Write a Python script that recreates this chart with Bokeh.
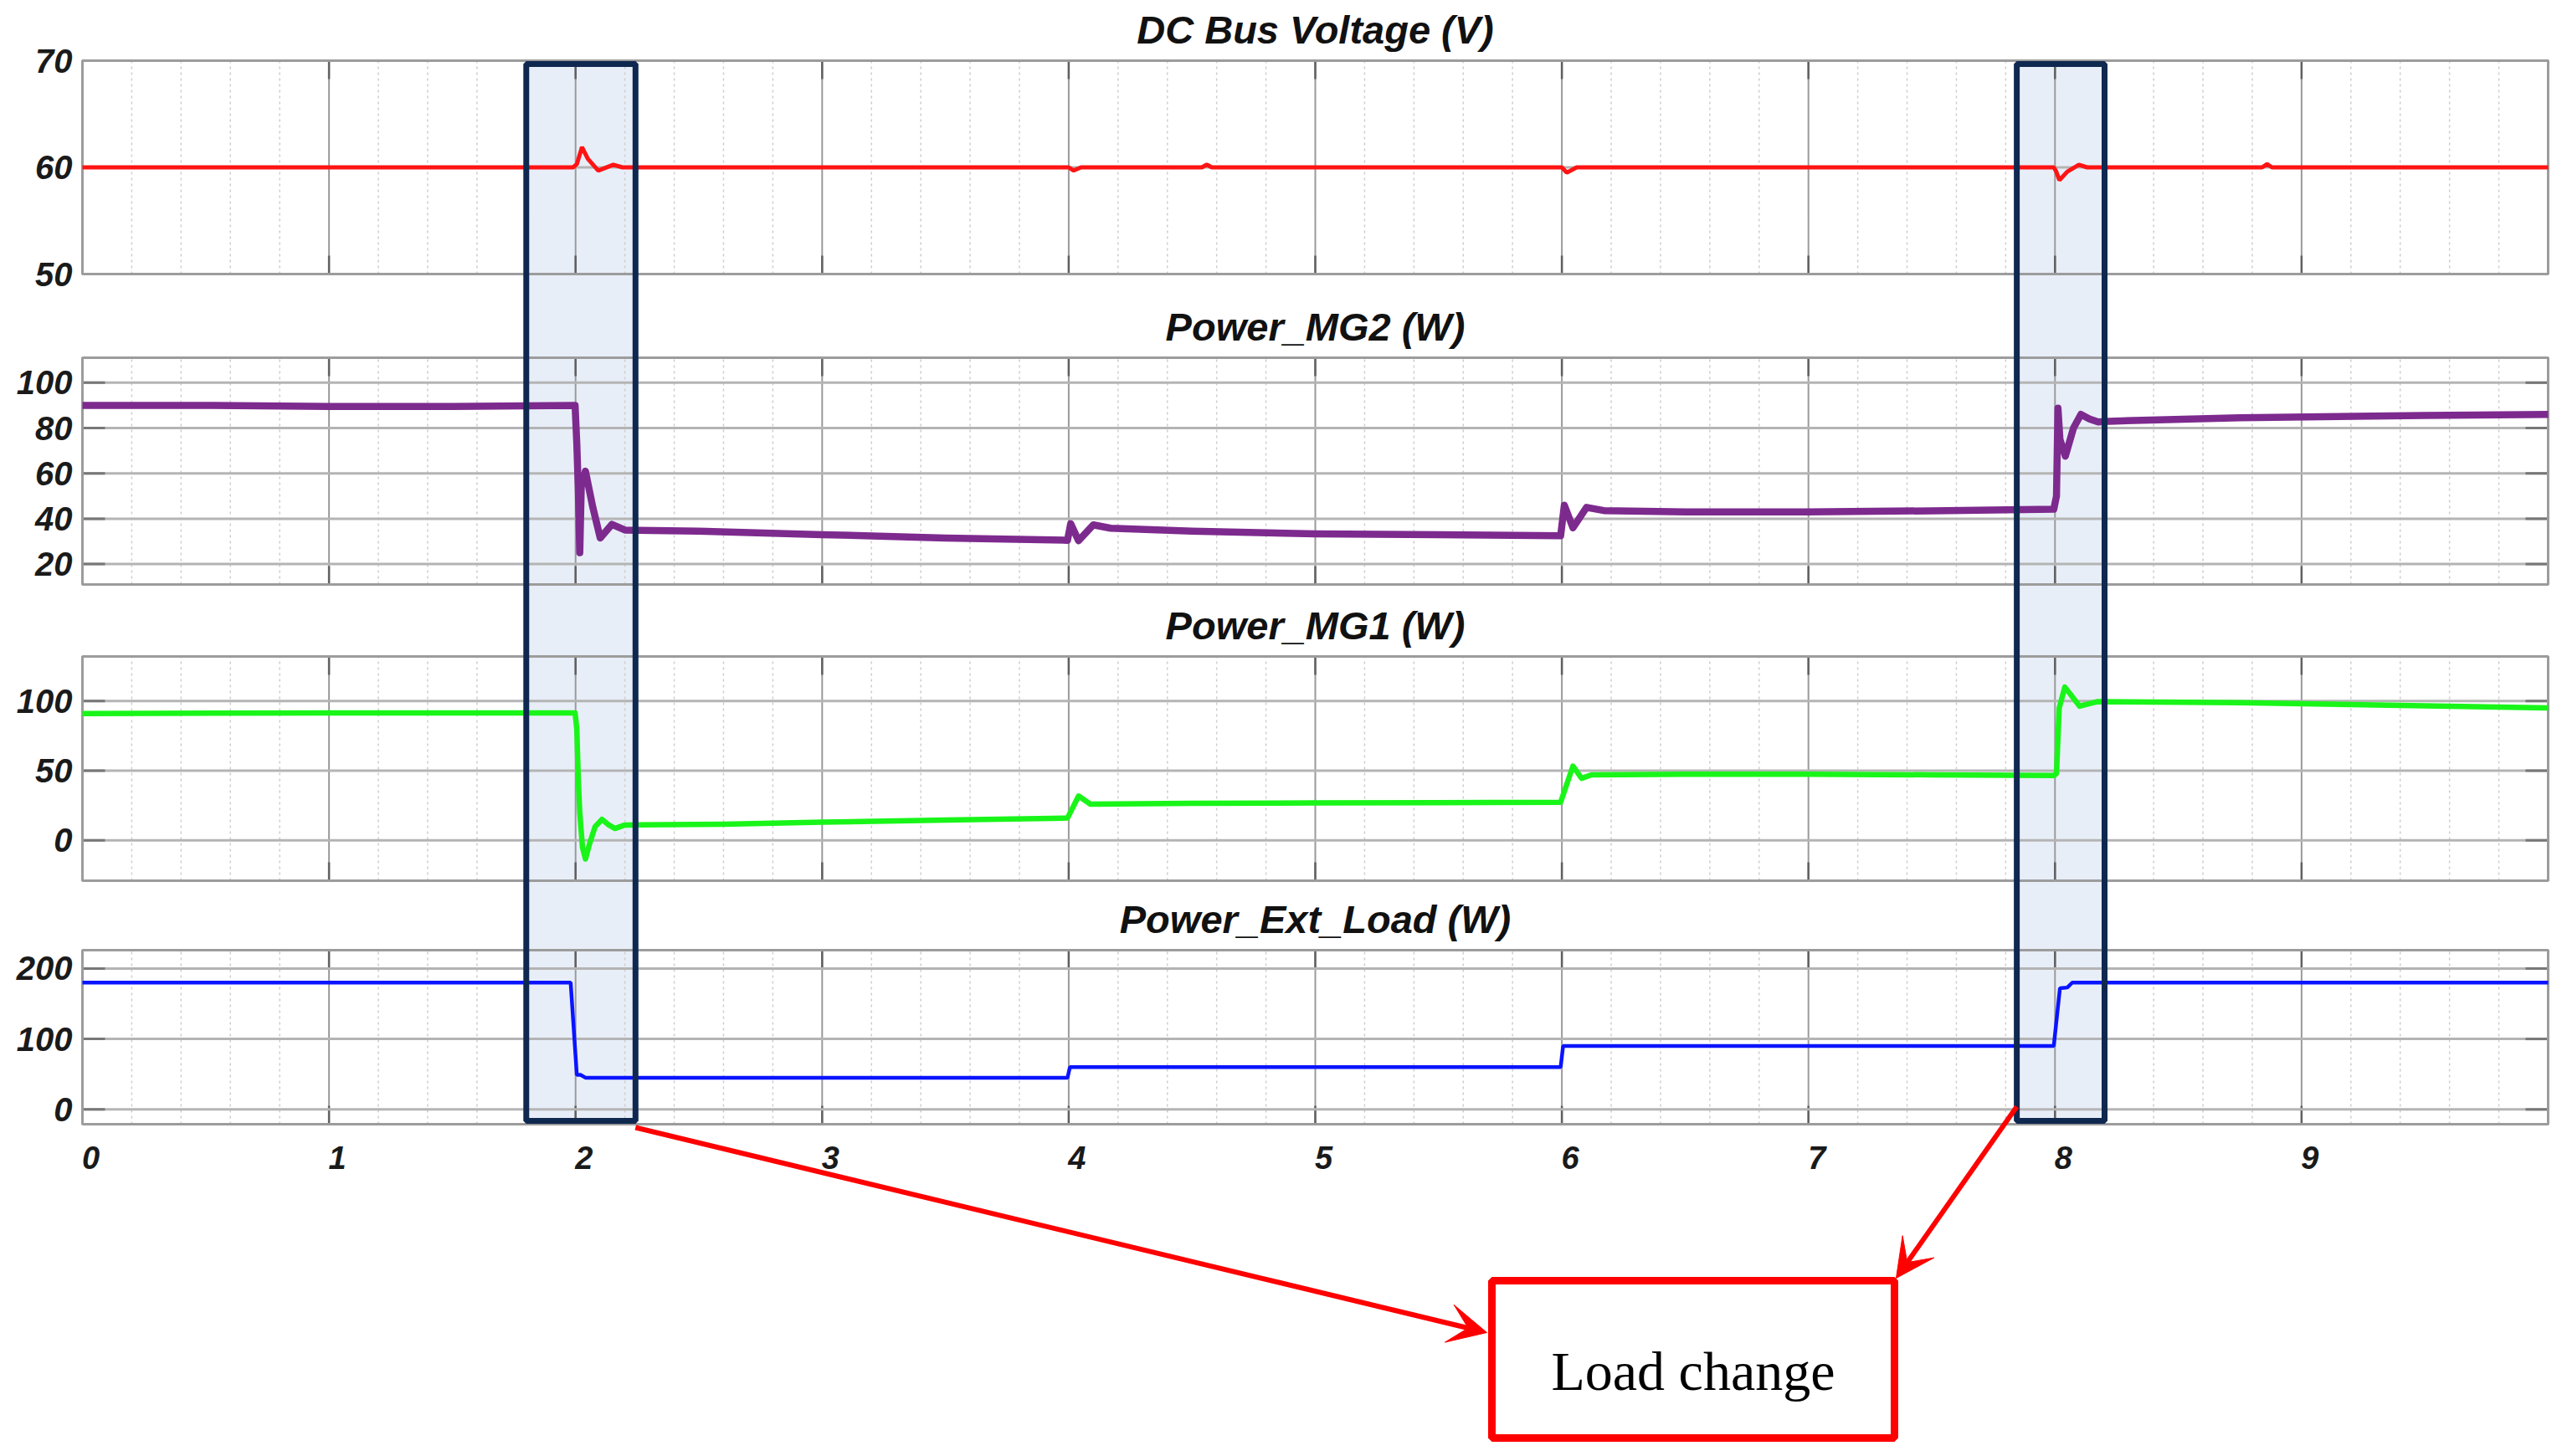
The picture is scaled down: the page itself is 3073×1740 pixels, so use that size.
from bokeh.plotting import figure
from bokeh.models import Range1d, LinearAxis, FixedTicker, Arrow, VeeHead
from bokeh.core.properties import value
from bokeh.embed import file_html
from bokeh.resources import INLINE

# ---------------- data ----------------
time_ticks = [0, 1, 2, 3, 4, 5, 6, 7, 8, 9]

dc_bus_t = [0, 1.99, 2.005, 2.026, 2.05, 2.092, 2.153, 2.19, 3.99, 4.0, 4.02, 4.05,
            4.54, 4.56, 4.58, 5.99, 6.0, 6.02, 6.06, 7.995, 8.005, 8.018, 8.05, 8.097,
            8.13, 8.84, 8.86, 8.88, 10]
dc_bus_v = [60, 60, 60.3, 61.9, 60.8, 59.7, 60.25, 60, 60, 60, 59.7, 60,
            60, 60.25, 60, 60, 60, 59.5, 60, 60, 59.6, 58.8, 59.6, 60.25,
            60, 60, 60.3, 60, 60]

mg2_t = [0, 0.5, 1.0, 1.5, 1.998, 2.005, 2.011, 2.017, 2.023, 2.04, 2.07, 2.10,
         2.147, 2.2, 2.5, 3.0, 3.5, 3.995, 4.008, 4.04, 4.1, 4.17, 4.5, 5.0,
         5.5, 5.995, 6.01, 6.045, 6.1, 6.17, 6.5, 7.0, 7.5, 7.995, 8.006, 8.012,
         8.02, 8.042, 8.075, 8.105, 8.14, 8.175, 8.22, 8.75, 9.5, 10]
mg2_w = [90, 90, 89.5, 89.5, 90, 73, 53, 25, 54, 61, 45, 31.5,
         37.5, 35, 34.5, 33, 31.5, 30.5, 37.8, 30.3, 37.3, 35.8, 34.5, 33.3,
         33, 32.5, 46, 36, 45, 43.6, 43, 43, 43.5, 44.2, 50, 88.8,
         75, 67.6, 80, 86, 84, 82.7, 83, 84.5, 85.5, 86]

mg1_t = [0, 1.0, 1.998, 2.005, 2.011, 2.017, 2.028, 2.04, 2.057, 2.079, 2.107,
         2.135, 2.16, 2.2, 2.6, 3.0, 3.5, 3.995, 4.04, 4.088, 4.5, 5.0, 5.5,
         5.995, 6.045, 6.08, 6.12, 6.5, 7.0, 7.5, 7.995, 8.006, 8.017, 8.04,
         8.1, 8.17, 8.75, 9.5, 10]
mg1_w = [91, 91.5, 91.5, 80, 44, 19.5, -5, -13.4, -2.4, 9.8, 15,
         11, 8.5, 11, 11.5, 13, 14.5, 16, 31.8, 26, 26.5, 26.9, 27,
         27.3, 53.3, 44.5, 47, 47.5, 47.5, 47, 46.5, 48, 95, 110,
         96.3, 99.5, 98.8, 96.5, 95]

load_t = [0, 1.98, 2.005, 2.02, 2.04, 3.995, 4.005, 5.995, 6.005, 7.995, 8.02,
          8.05, 8.07, 10]
load_w = [180, 180, 49, 49, 45, 45, 60, 60, 90, 90, 172, 173, 180, 180]

load_change_windows_start = [1.80, 7.845]
load_change_windows_end = [2.243, 8.201]

panel_titles = ["DC Bus Voltage (V)", "Power_MG2 (W)", "Power_MG1 (W)", "Power_Ext_Load (W)"]
dc_ticks = [50, 60, 70]
mg2_ticks = [20, 40, 60, 80, 100]
mg1_ticks = [0, 50, 100]
load_ticks = [0, 100, 200]
callout_text = "Load change"

# ---------------- layout (reference pixel coordinates) ----------------
W, H = 3057, 1724
REF_TOP, REF_BOTTOM = 0, H
REF_LEFT, REF_RIGHT = 0, W
X0_PX, X10_PX = 98, 3044
PXU = (X10_PX - X0_PX) / 10.0

panels = {
    "dc":   dict(top=72,   bottom=327,  lo=50,  hi=70,  ticks=dc_ticks),
    "mg2":  dict(top=427,  bottom=698,  lo=11,  hi=111, ticks=mg2_ticks),
    "mg1":  dict(top=784,  bottom=1052, lo=-29, hi=132, ticks=mg1_ticks),
    "load": dict(top=1135, bottom=1343, lo=-21, hi=226, ticks=load_ticks),
}

x_start = -(X0_PX - REF_LEFT) / PXU
x_end = 10 + (REF_RIGHT - X10_PX) / PXU
x_range = Range1d(start=x_start, end=x_end)
y_range = Range1d(start=REF_BOTTOM, end=REF_TOP)   # layout coordinates, downward

p = figure(width=W, height=H, x_range=x_range, y_range=y_range,
           x_axis_type=None, y_axis_type=None, toolbar_location=None,
           output_backend="svg", min_border=0, outline_line_color=None)
p.background_fill_color = "white"
p.border_fill_color = "white"

# x labels in the reference sit ~10 px right of their grid line
LABEL_SHIFT = 10 / PXU
p.extra_x_ranges["xlab"] = Range1d(start=x_start - LABEL_SHIFT, end=x_end - LABEL_SHIFT)

for name, d in panels.items():
    s = (d["hi"] - d["lo"]) / (d["bottom"] - d["top"])
    d["s"] = s
    p.extra_y_ranges[name] = Range1d(start=d["lo"] - (REF_BOTTOM - d["bottom"]) * s,
                                     end=d["hi"] + (d["top"] - REF_TOP) * s)

# highlight fills (under everything)
p.quad(left=load_change_windows_start, right=load_change_windows_end,
       top=[76, 76], bottom=[1339, 1339], fill_color="#e8eef8", line_color=None)

FONT = "Liberation Sans"
minor_x = [i / 5 for i in range(51) if i % 5]
major_x = list(range(0, 11))
TICK = 27 / PXU

for name, d in panels.items():
    lo, hi, s = d["lo"], d["hi"], d["s"]
    p.segment(x0=minor_x, x1=minor_x, y0=[lo] * len(minor_x), y1=[hi] * len(minor_x),
              y_range_name=name, line_color="#cdcdcd", line_width=1.5, line_dash="3 4")
    p.segment(x0=major_x, x1=major_x, y0=[lo] * len(major_x), y1=[hi] * len(major_x),
              y_range_name=name, line_color="#9a9a9a", line_width=2)
    tl = 22 * s
    p.segment(x0=major_x, x1=major_x, y0=[lo] * len(major_x), y1=[lo + tl] * len(major_x),
              y_range_name=name, line_color="#606060", line_width=2.5)
    p.segment(x0=major_x, x1=major_x, y0=[hi] * len(major_x), y1=[hi - tl] * len(major_x),
              y_range_name=name, line_color="#606060", line_width=2.5)
    tk = d["ticks"]
    p.segment(x0=[0] * len(tk), x1=[10] * len(tk), y0=tk, y1=tk,
              y_range_name=name, line_color="#b4b4b4", line_width=3)
    # tick marks inside the frame, left and right
    p.segment(x0=[0] * len(tk), x1=[TICK] * len(tk), y0=tk, y1=tk,
              y_range_name=name, line_color="#777777", line_width=3)
    p.segment(x0=[10 - TICK] * len(tk), x1=[10] * len(tk), y0=tk, y1=tk,
              y_range_name=name, line_color="#777777", line_width=3)
    p.quad(left=[0], right=[10], bottom=[lo], top=[hi], y_range_name=name,
           fill_color=None, line_color="#9c9c9c", line_width=3)
    ax = LinearAxis(y_range_name=name, ticker=FixedTicker(ticks=tk), fixed_location=0,
                    axis_line_color=None, major_tick_in=0, major_tick_out=0,
                    major_tick_line_color=None, minor_tick_line_color=None,
                    major_label_standoff=12,
                    major_label_text_font=FONT, major_label_text_font_style="bold italic",
                    major_label_text_font_size="40px", major_label_text_color="#1a1a1a")
    p.add_layout(ax, "left")

# data lines
p.line(dc_bus_t, dc_bus_v, y_range_name="dc", line_color="#ff1414", line_width=5)
p.line(mg2_t, mg2_w, y_range_name="mg2", line_color="#7d2a8e", line_width=8.5, line_join="round")
p.line(mg1_t, mg1_w, y_range_name="mg1", line_color="#19f519", line_width=6.5, line_join="round")
p.line(load_t, load_w, y_range_name="load", line_color="#0a14ff", line_width=4.5)

# highlight box borders
p.quad(left=load_change_windows_start, right=load_change_windows_end,
       top=[76, 76], bottom=[1339, 1339], fill_color=None,
       line_color="#0f2850", line_width=7)

# x axis
xax = LinearAxis(x_range_name="xlab", ticker=FixedTicker(ticks=time_ticks), fixed_location=1345,
                 axis_line_color=None, major_tick_in=0, major_tick_out=0,
                 major_tick_line_color=None, minor_tick_line_color=None,
                 major_label_standoff=24,
                 major_label_text_font=FONT, major_label_text_font_style="bold italic",
                 major_label_text_font_size="38px", major_label_text_color="#1a1a1a")
p.add_layout(xax, "below")

# panel titles
title_baselines = [d["top"] - 37 for d in panels.values()]
p.text(x=[5] * 4, y=title_baselines, text=panel_titles, text_font=value(FONT),
       text_font_style="bold italic", text_font_size="47px", text_align="center",
       text_baseline="alphabetic", text_color="#111111")

# callout box
box_l, box_r = (1782 - X0_PX) / PXU, (2263 - X0_PX) / PXU
p.quad(left=[box_l], right=[box_r], top=[1530], bottom=[1718], fill_color="white",
       line_color="#ff0000", line_width=9)
p.text(x=[(box_l + box_r) / 2], y=[1638], text=[callout_text],
       text_font=value("Liberation Serif"), text_font_size="66px", text_align="center",
       text_baseline="alphabetic", text_color="black")

# arrows from the highlighted windows to the callout
p.add_layout(Arrow(x_start=load_change_windows_end[0], y_start=1347,
                   x_end=box_l - 6 / PXU, y_end=1592,
                   line_color="#ff0000", line_width=6,
                   end=VeeHead(size=46, fill_color="#ff0000", line_color="#ff0000")))
p.add_layout(Arrow(x_start=load_change_windows_start[1], y_start=1322,
                   x_end=box_r + 2 / PXU, y_end=1527,
                   line_color="#ff0000", line_width=6,
                   end=VeeHead(size=46, fill_color="#ff0000", line_color="#ff0000")))

open("out.html", "w").write(file_html(p, INLINE))
